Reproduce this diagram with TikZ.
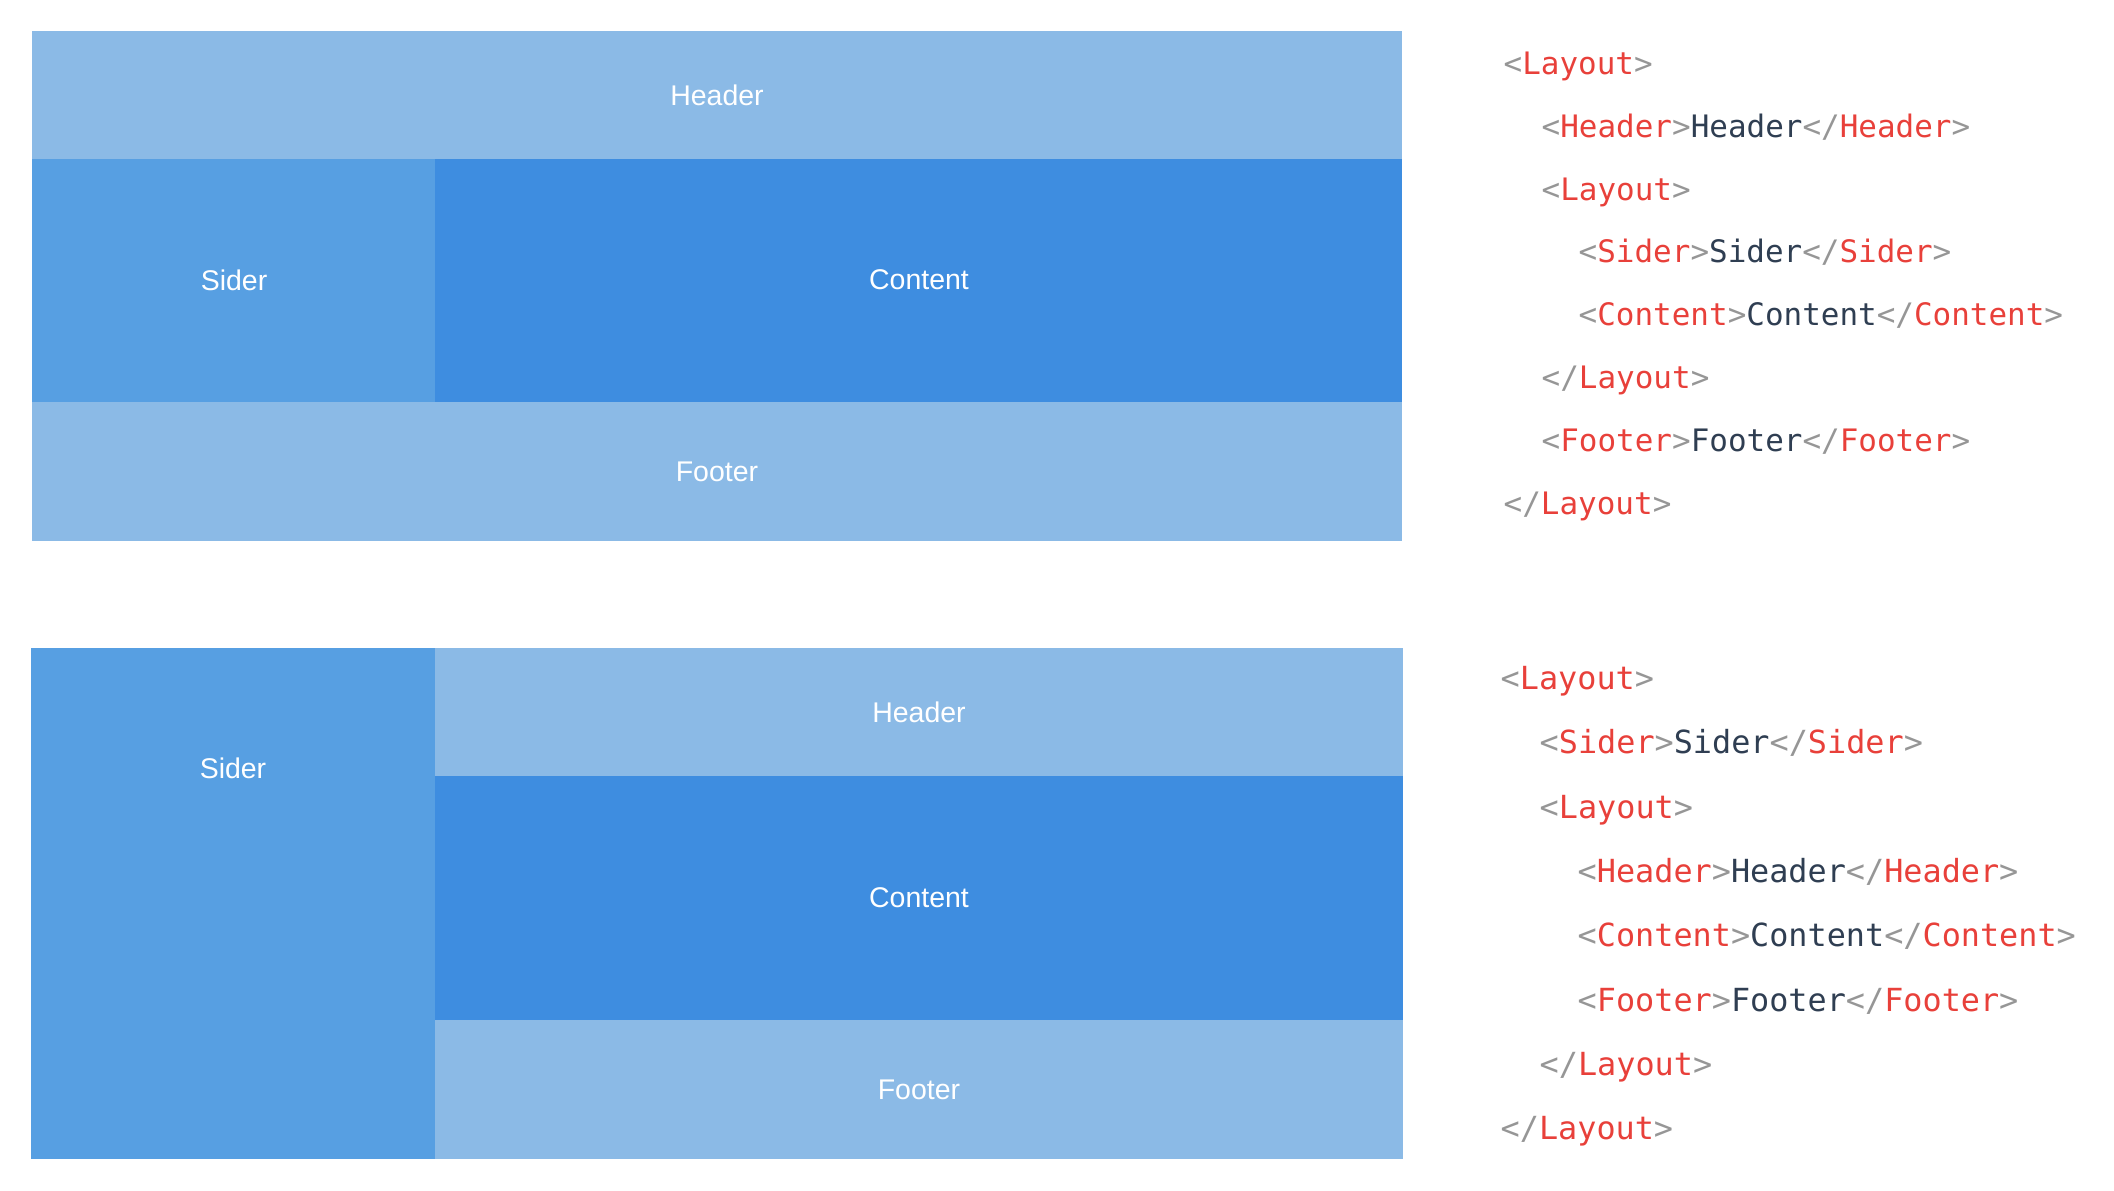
\documentclass[tikz,border=0pt]{standalone}
\usepackage{fontspec}
\setmainfont{Liberation Sans}
\newfontfamily\codefont{DejaVu Sans Mono}
\definecolor{lightblue}{RGB}{139,186,230}
\definecolor{siderblue}{RGB}{87,159,226}
\definecolor{contentblue}{RGB}{62,141,224}
\definecolor{tagred}{RGB}{232,64,58}
\definecolor{bracketgrey}{RGB}{150,150,150}
\definecolor{textdark}{RGB}{47,62,82}
\newcommand{\optag}[1]{{\color{bracketgrey}<}{\color{tagred}#1}{\color{bracketgrey}>}}
\newcommand{\cltag}[1]{{\color{bracketgrey}</}{\color{tagred}#1}{\color{bracketgrey}>}}
\newcommand{\fulltag}[1]{\optag{#1}{\color{textdark}#1}\cltag{#1}}
\tikzset{lbl/.style={text=white, font=\fontsize{8.1}{10}\selectfont},
  code/.style={anchor=base west, inner sep=0pt, font=\codefont\fontsize{8.8}{10}\selectfont},
  codebig/.style={code, font=\codefont\fontsize{9.05}{10}\selectfont}}
\begin{document}
\begin{tikzpicture}[x=0.01cm,y=-0.01cm]
\useasboundingbox (0,0) rectangle (2114,1190);
\begin{scope}
\fill[lightblue] (32,31) rectangle (1402,159);
\fill[siderblue] (32,159) rectangle (435,402);
\fill[contentblue] (435,159) rectangle (1402,402);
\fill[lightblue] (32,402) rectangle (1402,541);
\node[lbl] (headA) at (717,95) {Header};
\node[lbl] (siderA) at (234,280) {Sider};
\node[lbl] (contentA) at (919,280) {Content};
\node[lbl] (footA) at (717,472) {Footer};
\end{scope}
\begin{scope}
\fill[siderblue] (31,648) rectangle (435,1159);
\fill[lightblue] (435,648) rectangle (1403,776);
\fill[contentblue] (435,776) rectangle (1403,1020);
\fill[lightblue] (435,1020) rectangle (1403,1159);
\node[lbl] (siderB) at (233,768) {Sider};
\node[lbl] (headB) at (919,712) {Header};
\node[lbl] (contentB) at (919,898) {Content};
\node[lbl] (footB) at (919,1090) {Footer};
\end{scope}
%\draw (1490,0) -- (1490,1190);
\begin{scope}
\node[code] (codeA1) at (1503,74) {\optag{Layout}};
\node[code] (codeA2) at (1541,137) {\fulltag{Header}};
\node[code] (codeA3) at (1541,200) {\optag{Layout}};
\node[code] (codeA4) at (1578,262) {\fulltag{Sider}};
\node[code] (codeA5) at (1578,325) {\fulltag{Content}};
\node[code] (codeA6) at (1541,388) {\cltag{Layout}};
\node[code] (codeA7) at (1541,451) {\fulltag{Footer}};
\node[code] (codeA8) at (1503,514) {\cltag{Layout}};
\end{scope}
\begin{scope}
\node[codebig] (codeB1) at (1500,689) {\optag{Layout}};
\node[codebig] (codeB2) at (1539,753) {\fulltag{Sider}};
\node[codebig] (codeB3) at (1539,818) {\optag{Layout}};
\node[codebig] (codeB4) at (1577,882) {\fulltag{Header}};
\node[codebig] (codeB5) at (1577,946) {\fulltag{Content}};
\node[codebig] (codeB6) at (1577,1011) {\fulltag{Footer}};
\node[codebig] (codeB7) at (1539,1075) {\cltag{Layout}};
\node[codebig] (codeB8) at (1500,1139) {\cltag{Layout}};
\end{scope}
\end{tikzpicture}
\end{document}
